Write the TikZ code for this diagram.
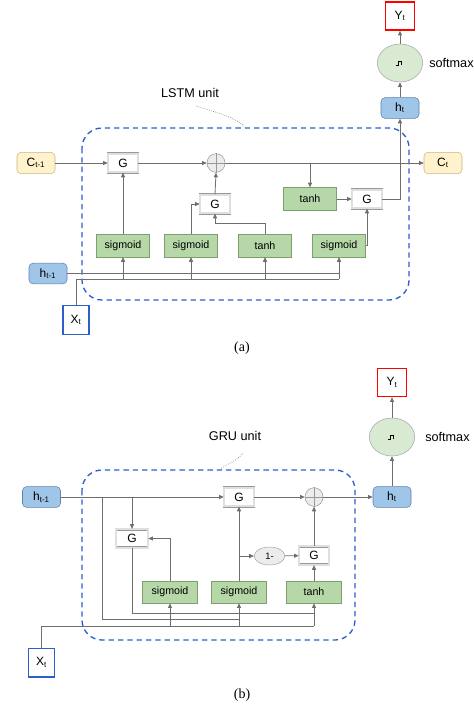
\documentclass[tikz,border=0pt]{standalone}
\usepackage{fontspec}
\setmainfont{Liberation Sans}
\newfontfamily\capfont{Liberation Serif}
\usetikzlibrary{arrows.meta,positioning,calc,shapes.geometric}
\definecolor{gatefill}{RGB}{182,215,168}
\definecolor{gateline}{RGB}{125,160,110}
\definecolor{hidfill}{RGB}{159,197,232}
\definecolor{hidline}{RGB}{95,130,170}
\definecolor{cellfill}{RGB}{255,242,204}
\definecolor{cellline}{RGB}{200,180,125}
\definecolor{unitblue}{RGB}{45,95,200}
\definecolor{wiregray}{RGB}{110,110,110}
\definecolor{smfill}{RGB}{217,234,211}
\newcommand\smpulse[1]{\draw[line width=0.5pt] ([shift={(-4,2)}]#1.center) -- ++(2.5,0) -- ++(0,-4) -- ++(3,0) -- ++(0,4);}

\begin{document}
\begin{tikzpicture}[x=0.75pt, y=-0.75pt,
    every node/.style={inner sep=0pt, font=\fontsize{8}{9}\selectfont},
    wire/.style={draw=wiregray, line width=0.6pt},
    arr/.style={wire, -{Triangle[length=3.5pt,width=3pt]}},
    actbox/.style={draw=gateline, fill=gatefill, minimum width=40pt, minimum height=17pt},
    gbox/.style={draw=gray!80, double=gray!25, double distance=1.4pt, fill=white, minimum width=22.5pt, minimum height=14pt, font=\fontsize{9}{10}\selectfont},
    hbox/.style={draw=hidline, fill=hidfill, rounded corners=3pt, minimum width=28.5pt, minimum height=15.5pt, font=\fontsize{9}{10}\selectfont},
    cbox/.style={draw=cellline, fill=cellfill, rounded corners=3pt, minimum width=28.5pt, minimum height=16pt, font=\fontsize{9}{10}\selectfont},
    ybox/.style={draw=red, line width=1pt, fill=white, minimum width=22pt, minimum height=21pt, font=\fontsize{9}{10}\selectfont},
    xbox/.style={draw=unitblue, line width=1pt, fill=white, minimum width=19.5pt, minimum height=21.5pt, font=\fontsize{9}{10}\selectfont},
    smnode/.style={ellipse, draw=gray!70, fill=smfill, minimum width=34pt, minimum height=28.5pt},
    addnode/.style={ellipse, draw=gray!80, fill=gray!15, minimum width=13.5pt, minimum height=14pt},
    unit/.style={draw=unitblue, line width=1pt, dash pattern=on 4pt off 3pt, rounded corners=15pt},
    lbl/.style={font=\fontsize{9.5}{11}\selectfont},
    pointer/.style={draw=gray, densely dotted, line width=0.5pt}
]
\useasboundingbox (0,0) rectangle (474,724);

% (a) LSTM unit
\draw[unit] (82,128) rectangle (409,300);
\node[lbl] (lstmlbl) at (190,93) {LSTM unit};
\coordinate (lstmtip) at (245,127);
\draw[pointer] (196,106) .. controls (215,112) and (235,117) .. (lstmtip);

% output side
\node[ybox] (y1) at (400,16) {Y\textsubscript{t}};
\node[smnode] (sm1) at (400,63) {};
\smpulse{sm1}
\node[lbl, anchor=west] (smlbl1) at (429,63) {softmax};
\node[hbox] (h1) at (400,108) {h\textsubscript{t}};

% cell state line
\node[cbox] (c0) at (36,163) {C\textsubscript{t-1}};
\node[gbox] (g1) at (123,163) {G};
\node[addnode] (add1) at (216,163) {};
\draw[gray!80, line width=0.5pt] (add1.north) -- (add1.south) (add1.west) -- (add1.east);
\node[cbox] (c1) at (443,163) {C\textsubscript{t}};
\draw[arr] (c0) -- (g1);
\draw[arr] (g1) -- (add1);
\draw[arr] (add1) -- (c1);

% gates
\node[actbox] (tanhc) at (310,199) {tanh};
\node[gbox] (g4) at (367,199) {G};
\node[gbox] (g2) at (215,204) {G};
\node[actbox] (s1) at (123,245.5) {sigmoid};
\node[actbox] (s2) at (191,245.5) {sigmoid};
\node[actbox] (th1) at (265,245.5) {tanh};
\node[actbox] (s3) at (339,245.5) {sigmoid};

\draw[arr] (tanhc.north |- add1) -- (tanhc.north);
\draw[arr] (tanhc) -- (g4);
\draw[arr] (g4.east) -| (h1.south);
\draw[arr] (h1) -- (sm1);
\draw[arr] (sm1) -- (y1);
\draw[arr] (s1.north) -- (g1.south);
\draw[arr] (s2.north) |- (g2.west);
\draw[arr] (th1.north) -- ++(0,-11) -| (g2.south);
\draw[arr] (g2.north) -- (add1.south);
\draw[arr] (s3.east) -| (g4.south);

% inputs
\node[hbox] (hp1) at (48,273.5) {h\textsubscript{t-1}};
\node[xbox] (xt1) at (76,320) {X\textsubscript{t}};
\coordinate (hbus1) at (339,273.5);
\coordinate (xbus1) at (339,279);
\draw[wire] (hp1.east) -- (hbus1);
\draw[wire] (xt1.north) |- (xbus1);
\foreach \n in {s1,s2,th1,s3}
    \draw[arr] (\n.south |- xbus1) -- (\n.south);

\node[font=\capfont\fontsize{10.5}{12}\selectfont] (capa) at (242,348) {(a)};

% (b) GRU unit
\draw[unit] (82,470) rectangle (355,640);
\node[lbl] (grulbl) at (235,436) {GRU unit};
\coordinate (grutip) at (219,470);
\draw[pointer] (243,453) .. controls (236,462) and (226,464) .. (grutip);

% output side
\node[ybox] (y2) at (392,382.5) {Y\textsubscript{t}};
\node[smnode] (sm2) at (392,437) {};
\smpulse{sm2}
\node[lbl, anchor=west] (smlbl2) at (425,437) {softmax};
\node[hbox] (h2) at (392,497) {h\textsubscript{t}};

% hidden state line
\node[hbox] (hp2) at (41.5,497) {h\textsubscript{t-1}};
\node[gbox] (gt) at (239,497) {G};
\node[addnode] (add2) at (314,497) {};
\draw[gray!80, line width=0.5pt] (add2.north) -- (add2.south) (add2.west) -- (add2.east);
\draw[arr] (hp2) -- (gt);
\draw[arr] (gt) -- (add2);
\draw[arr] (add2) -- (h2);
\draw[arr] (h2) -- (sm2);
\draw[arr] (sm2) -- (y2);

% gates
\node[gbox, minimum width=24pt] (gl) at (132,538.5) {G};
\node[ellipse, draw=gray!70, fill=gray!15, minimum width=23pt, minimum height=13.5pt, font=\fontsize{7}{8}\selectfont] (one) at (269.5,556) {1-};
\node[gbox] (gr) at (314,555.5) {G};
\node[actbox, minimum width=41pt, minimum height=16.5pt] (sg1) at (170,592) {sigmoid};
\node[actbox, minimum width=41pt, minimum height=16.5pt] (sg2) at (239,592) {sigmoid};
\node[actbox, minimum width=41pt, minimum height=16.5pt] (tg) at (314,592) {tanh};

\draw[arr] (gl.north |- hp2) -- (gl.north);
\draw[arr] (sg1.north) |- (gl.east);
\draw[arr] (sg2.north) -- (gt.south);
\draw[arr] (sg2.north |- one) -- (one.west);
\draw[arr] (one) -- (gr);
\draw[arr] (tg) -- (gr);
\draw[arr] (gr) -- (add2);

% inputs
\node[xbox] (xt2) at (41.5,662.5) {X\textsubscript{t}};
\coordinate (hsplit) at (102,497);
\coordinate (rbus) at (314,613);
\coordinate (hbus2) at (239,619.5);
\coordinate (xbus2) at (314,626);
\draw[wire] (gl.south) |- (rbus);
\draw[wire] (hsplit) |- (hbus2);
\draw[wire] (xt2.north) |- (xbus2);
\foreach \n in {sg1,sg2,tg}
    \draw[arr] (\n.south |- xbus2) -- (\n.south);

\node[font=\capfont\fontsize{10.5}{12}\selectfont] (capb) at (242,695) {(b)};
\end{tikzpicture}
\end{document}
